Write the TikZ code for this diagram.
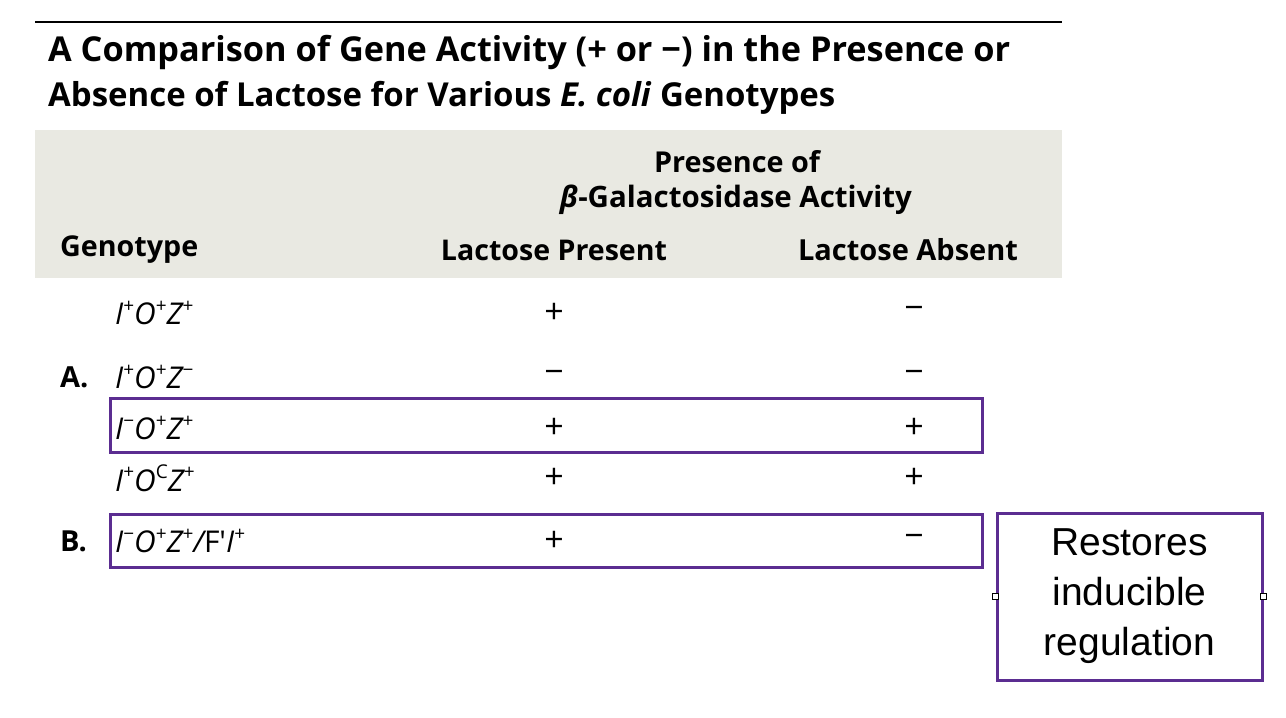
\documentclass[tikz,border=0pt]{standalone}
\usepackage{fontspec}
\setmainfont{Open Sans}
\newfontfamily\arialf{Liberation Sans}
\definecolor{hdr}{HTML}{E9E9E2}
\definecolor{purp}{HTML}{5B2D91}
\newcommand{\gsup}[1]{\raisebox{0.42em}{\fontsize{19}{19}\selectfont\upshape #1}}
\begin{document}
\begin{tikzpicture}[x=1pt,y=-1pt,
  ttl/.style={anchor=west,font=\fontsize{28}{32}\selectfont\bfseries,inner sep=0},
  hd/.style={font=\fontsize{25}{28}\selectfont\bfseries,inner sep=0},
  gt/.style={anchor=west,font=\fontsize{30}{32}\selectfont\itshape,inner sep=0},
  sym/.style={font=\fontsize{34}{36}\selectfont,inner sep=0},
  pbox/.style={draw=purp,line width=3pt}]
\useasboundingbox (0,0) rectangle (1286,718);
\fill[white] (0,0) rectangle (1286,718);
\coordinate (l1) at (35,22); \coordinate (l2) at (1062,22);
\draw[line width=1.5pt] (l1) -- (l2);
\node[ttl] (t1) at (48,52) {\resizebox{962pt}{!}{A Comparison of Gene Activity (+ or −) in the Presence or}};
\node[ttl] (t2) at (48,98) {\resizebox{787pt}{!}{Absence of Lactose for Various \textit{E. coli} Genotypes}};
\fill[hdr] (35,130) rectangle (1062,278);
\node[hd] (h1) at (737,162) {\resizebox{166pt}{!}{Presence of}};
\node[hd] (h2) at (736,200) {\resizebox{352pt}{!}{\textit{β}-Galactosidase Activity}};
\node[hd,anchor=west] (h3) at (60,250) {\resizebox{138pt}{!}{Genotype}};
\node[hd] (h4) at (554,250) {\resizebox{226pt}{!}{Lactose Present}};
\node[hd] (h5) at (908,250) {\resizebox{220pt}{!}{Lactose Absent}};
\node[gt] (g1) at (115,313) {I\gsup{+}O\gsup{+}Z\gsup{+}};
\node[gt] (g2) at (115,377) {I\gsup{+}O\gsup{+}Z\gsup{−}};
\node[gt] (g3) at (115,428) {I\gsup{−}O\gsup{+}Z\gsup{+}};
\node[gt] (g4) at (115,478) {I\gsup{+}O\gsup{C}Z\gsup{+}};
\node[gt] (g5) at (115,541) {I\gsup{−}O\gsup{+}Z\gsup{+}/\upshape F′\itshape I\gsup{+}};
\node[hd,anchor=west,font=\fontsize{29}{32}\selectfont\bfseries] (a) at (60,377) {A.};
\node[hd,anchor=west,font=\fontsize{29}{32}\selectfont\bfseries] (b) at (60,541) {B.};
\foreach \y/\p/\q [count=\i] in {313/+/−,377/−/−,428/+/+,478/+/+,541/+/−}{
  \node[sym] (p\i) at (554,\y) {\p};
  \node[sym] (q\i) at (914,\y) {\q};
}
\draw[pbox] (110,398) rectangle (982,452);
\draw[pbox] (110,514) rectangle (982,567);
\node[draw=purp,line width=3pt,minimum width=265pt,minimum height=167pt,inner sep=0,
  align=center,font=\arialf\fontsize{39}{50}\selectfont] (r) at (1129.5,596.5) {Restores\\inducible\\regulation};
\draw[fill=white,line width=0.4pt] ([xshift=-3pt,yshift=-3pt]r.west) rectangle ([xshift=3pt,yshift=3pt]r.west);
\draw[fill=white,line width=0.4pt] ([xshift=-3pt,yshift=-3pt]r.east) rectangle ([xshift=3pt,yshift=3pt]r.east);
\end{tikzpicture}
\end{document}
